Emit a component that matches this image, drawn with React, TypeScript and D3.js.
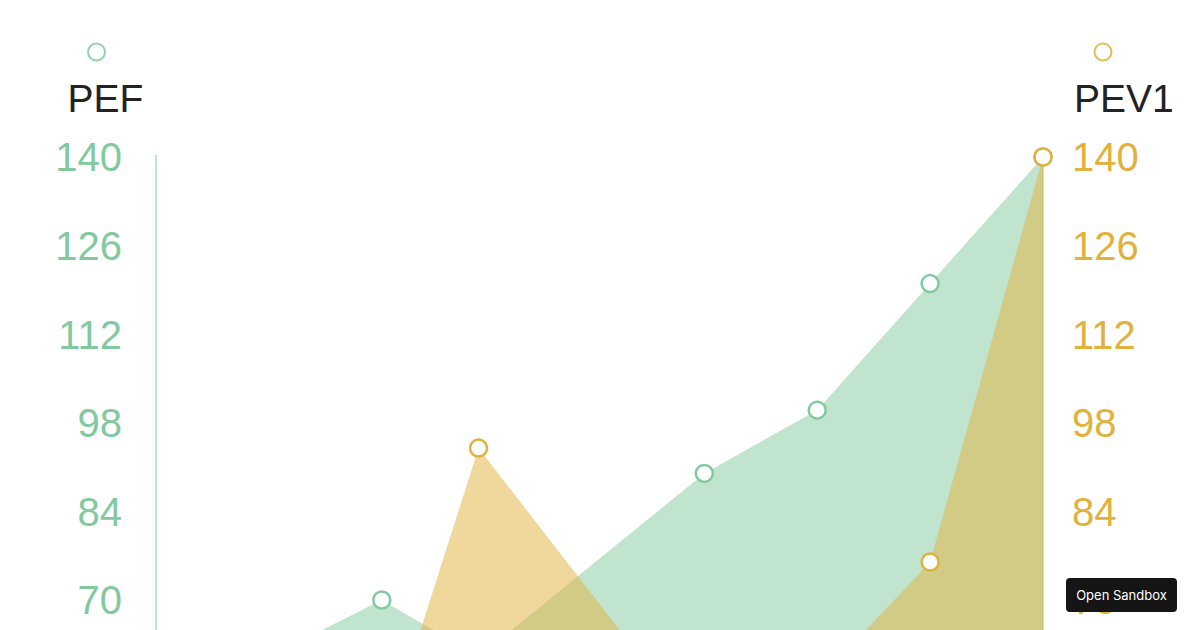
import * as d3 from "d3";

// weekly-ish readings (UTC dates)
const dates = ["2023-03-01", "2023-03-08", "2023-03-15", "2023-03-21", "2023-04-04", "2023-04-11", "2023-04-18", "2023-04-25"];
const pefValues = [52, 61, 70, 61, 90, 100, 120, 140];
const pev1Values = [40, 43, 46, 94, 48, 57, 76, 140];
const yTicks = [0, 14, 28, 42, 56, 70, 84, 98, 112, 126, 140];
const seriesNames = ["PEF", "PEV1"];

const GREEN = "#82ca9d";
const ORANGE = "#e2b13c";

interface Row {
  date: Date;
  pef: number;
  pev1: number;
}

const rows: Row[] = dates.map((d, i) => ({
  date: new Date(d + "T00:00:00Z"),
  pef: pefValues[i],
  pev1: pev1Values[i],
}));

export default function App() {
  const width = 1200;
  const height = 1100;
  const margin = { top: 157, right: 157, bottom: 57, left: 156 };

  const x = d3
    .scaleUtc()
    .domain(d3.extent(rows, (d) => d.date) as [Date, Date])
    .range([margin.left, width - margin.right]);

  const y = d3.scaleLinear().domain([0, 140]).range([height - margin.bottom, margin.top]);

  const pefArea = d3
    .area<Row>()
    .x((d) => x(d.date))
    .y0(y(0))
    .y1((d) => y(d.pef));

  const pev1Area = d3
    .area<Row>()
    .x((d) => x(d.date))
    .y0(y(0))
    .y1((d) => y(d.pev1));

  const font = "'Liberation Sans', Arial, Helvetica, sans-serif";
  const xLeft = margin.left;
  const xRight = width - margin.right;

  return (
    <div style={{ position: "fixed", left: 0, top: 0, width: 1200, height: 630, overflow: "hidden", background: "#fff" }}>
      <svg width={width} height={height} style={{ display: "block", fontFamily: font }}>
        {/* legend */}
        {seriesNames.map((name, i) => {
          const cx = i === 0 ? 96.5 : 1103;
          const color = i === 0 ? GREEN : ORANGE;
          return (
            <g key={name}>
              <circle cx={cx} cy={52} r={8.5} fill="#fff" stroke={color} strokeOpacity={0.85} strokeWidth={2} />
              <text x={cx - 29} y={112} fontSize={39} fill="#222">
                {name}
              </text>
            </g>
          );
        })}

        {/* axis lines */}
        <line x1={xLeft} x2={xLeft} y1={y(140) - 2} y2={y(0)} stroke={GREEN} strokeOpacity={0.5} strokeWidth={2} />
        <line x1={xRight} x2={xRight} y1={y(140) - 2} y2={y(0)} stroke={ORANGE} strokeOpacity={0.5} strokeWidth={2} />

        {/* tick labels */}
        {yTicks.map((t) => (
          <g key={t}>
            <text x={xLeft - 34} y={y(t)} dy="0.36em" textAnchor="end" fontSize={40} fill={GREEN}>
              {t}
            </text>
            <text x={xRight + 29} y={y(t)} dy="0.36em" textAnchor="start" fontSize={40} fill={ORANGE}>
              {t}
            </text>
          </g>
        ))}

        {/* areas */}
        <path d={pefArea(rows) ?? ""} fill={GREEN} fillOpacity={0.5} />
        <path d={pev1Area(rows) ?? ""} fill={ORANGE} fillOpacity={0.5} />

        {/* markers */}
        {rows.map((d, i) => (
          <circle key={"p" + i} cx={x(d.date)} cy={y(d.pef)} r={8.5} fill="#fff" stroke={GREEN} strokeWidth={2.5} />
        ))}
        {rows.map((d, i) => (
          <circle key={"v" + i} cx={x(d.date)} cy={y(d.pev1)} r={8.5} fill="#fff" stroke={ORANGE} strokeWidth={2.5} />
        ))}
      </svg>

      <div
        style={{
          position: "absolute",
          left: 1066,
          top: 578,
          width: 111,
          height: 34,
          background: "#151515",
          borderRadius: 4,
          color: "#fff",
          fontFamily: "Inter, 'Noto Sans', sans-serif",
          fontSize: 13,
          display: "flex",
          alignItems: "center",
          justifyContent: "center",
        }}
      >
        Open Sandbox
      </div>
    </div>
  );
}
